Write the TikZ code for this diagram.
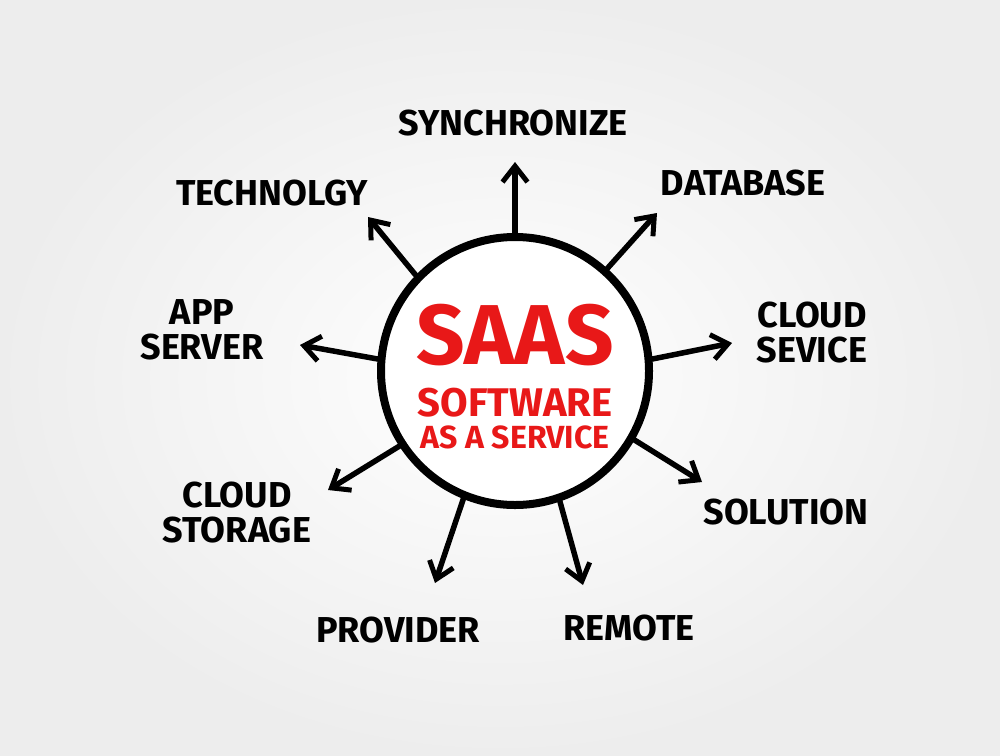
\documentclass[tikz,border=0pt]{standalone}
\usepackage{fontspec}
\setmainfont{Fira Sans}
\usetikzlibrary{arrows.meta}
\definecolor{saasred}{RGB}{232,24,24}
\tikzset{
  lbl/.style={font=\bfseries\fontsize{36}{35}\selectfont, align=center, inner sep=0pt},
  hubtxt/.style={saasred, inner sep=0pt, text depth=0pt},
  ray/.style={line width=5.5pt, line cap=round, -{Straight Barb[length=16pt, width=25pt, line width=5pt]}},
}

\begin{document}
\begin{tikzpicture}[x=1pt, y=-1pt]
\shade[inner color=white, outer color=black!7] (0,0) rectangle (1000,755);
\node[draw, circle, line width=8pt, minimum size=268pt, inner sep=0pt, fill=white] (hub) at (515,371) {};
\node[hubtxt, text height=60pt, font=\bfseries\fontsize{85}{85}\selectfont] (saas) at (515,334) {SAAS};
\node[hubtxt, text height=29pt, font=\bfseries\fontsize{40}{40}\selectfont] (softw) at (515,402) {SOFTWARE};
\node[hubtxt, text height=23pt, font=\bfseries\fontsize{32}{32}\selectfont] (asaserv) at (515,437) {AS A SERVICE};

\node[lbl] (sync) at (513,123) {SYNCHRONIZE};
\node[lbl] (tech) at (272,193) {TECHNOLGY};
\node[lbl] (dbase) at (743,183) {DATABASE};
\node[lbl] (appsrv) at (202,330) {APP\\SERVER};
\node[lbl] (cldsvc) at (812,333) {CLOUD\\SEVICE};
\node[lbl] (cldstor) at (237,513) {CLOUD\\STORAGE};
\node[lbl] (solution) at (786,512) {SOLUTION};
\node[lbl] (provider) at (398,630) {PROVIDER};
\node[lbl] (remote) at (629,628) {REMOTE};

\coordinate (syncTip) at (515,162);
\coordinate (techTip) at (368,217);
\coordinate (dbaseTip) at (657,213);
\coordinate (appTip) at (300,345);
\coordinate (svcTip) at (732,343);
\coordinate (storTip) at (328,490);
\coordinate (solTip) at (702,482);
\coordinate (provTip) at (435,583);
\coordinate (remTip) at (583,585);

\draw[ray] (hub.90) -- (syncTip);
\draw[ray] (hub.136) -- (techTip);
\draw[ray] (hub.48) -- (dbaseTip);
\draw[ray] (hub.175.6) -- (appTip);
\draw[ray] (hub.5.6) -- (svcTip);
\draw[ray] (hub.213.8) -- (storTip);
\draw[ray] (hub.330.6) -- (solTip);
\draw[ray] (hub.248.8) -- (provTip);
\draw[ray] (hub.289) -- (remTip);
\end{tikzpicture}
\end{document}
